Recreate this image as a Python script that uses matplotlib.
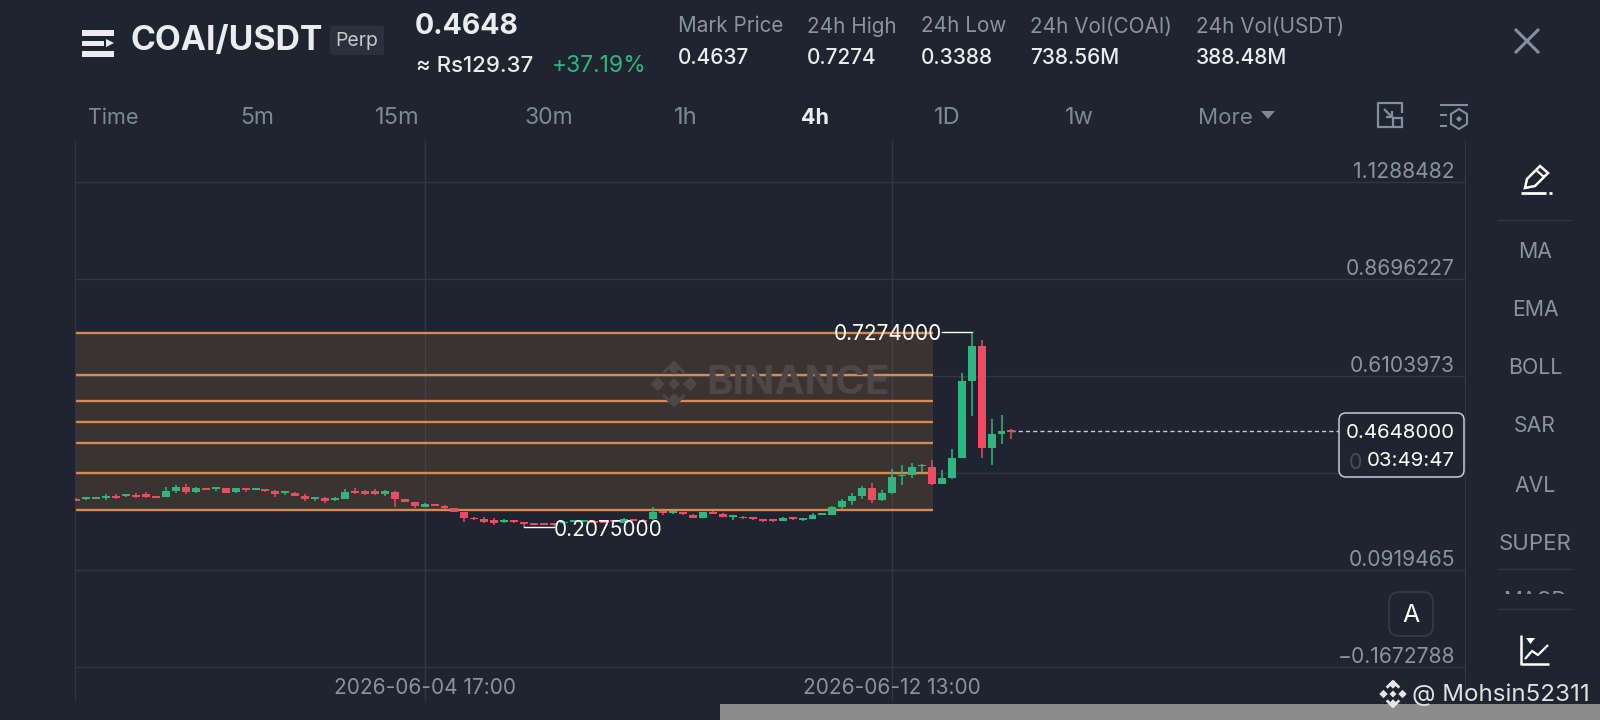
import matplotlib
matplotlib.use("Agg")
import matplotlib.pyplot as plt
from matplotlib.patches import FancyBboxPatch, Polygon, Rectangle

plt.rcParams['font.family'] = ['Inter', 'DejaVu Sans']

# candle data (one candle = 4h)
opens = [.2826, .2808, .2817, .2835, .2906, .2888, .2933, .2942, .2897, .2880,
         .3040, .3147, .3004, .3111, .3076, .3102, .2995, .3102, .3067, .3076,
         .3040, .2969, .2986, .2906, .2808, .2835, .2791, .2826, .3040, .3022,
         .3022, .2951, .2995, .2817, .2728, .2612, .2684, .2639, .2577, .2470,
         .2318, .2282, .2256, .2193, .2256, .2193, .2166, .2166, .2166, .2166,
         .2202, .2202, .2238, .2238, .2256, .2184, .2282, .2264, .2273, .2487,
         .2451, .2460, .2398, .2318, .2478, .2425, .2336, .2345, .2327, .2282,
         .2282, .2229, .2327, .2264, .2282, .2398, .2398, .2592, .2753, .2895,
         .3109, .2788, .2984, .3430, .3465, .3697, .3679, .3216, .3376, .3911,
         .5978, .6905, .4178, .4552, .4648]
highs = [.2835, .2871, .2871, .2951, .2951, .2951, .2969, .3004, .2906, .3129,
         .3200, .3209, .3147, .3120, .3147, .3111, .3111, .3111, .3120, .3085,
         .3058, .3031, .2995, .2951, .2871, .2871, .2862, .3076, .3102, .3058,
         .3076, .3058, .3040, .2826, .2737, .2719, .2692, .2648, .2586, .2479,
         .2327, .2327, .2309, .2273, .2264, .2202, .2175, .2175, .2175, .2220,
         .2264, .2264, .2247, .2247, .2264, .2300, .2291, .2273, .2594, .2496,
         .2496, .2469, .2407, .2469, .2487, .2434, .2389, .2354, .2336, .2291,
         .2291, .2327, .2336, .2318, .2434, .2443, .2630, .2806, .2967, .3163,
         .3234, .3056, .3626, .3724, .3786, .3751, .3858, .3590, .4160, .6174,
         .7274, .7065, .4945, .5069, .4677]
lows = [.2764, .2800, .2808, .2791, .2826, .2880, .2844, .2844, .2835, .2880,
        .2986, .2951, .2969, .3049, .3022, .2977, .2986, .3013, .3058, .3013,
        .2880, .2933, .2888, .2764, .2755, .2719, .2764, .2817, .2951, .2933,
        .2933, .2897, .2594, .2737, .2577, .2594, .2630, .2541, .2461, .2202,
        .2264, .2184, .2113, .2184, .2184, .2075, .2113, .2113, .2104, .2157,
        .2193, .2193, .2175, .2175, .2193, .2175, .2220, .2202, .2256, .2380,
        .2416, .2398, .2300, .2309, .2407, .2327, .2256, .2291, .2264, .2211,
        .2211, .2220, .2264, .2220, .2273, .2389, .2380, .2539, .2664, .2806,
        .2699, .2753, .2949, .3198, .3376, .3537, .3198, .3216, .3359, .3911,
        .5034, .3911, .3715, .4285, .4428]
closes = [.2773, .2862, .2862, .2906, .2844, .2942, .2871, .2871, .2844, .3040,
          .3129, .2995, .3111, .3058, .3129, .2986, .3102, .3049, .3111, .3022,
          .2951, .3022, .2897, .2808, .2862, .2773, .2844, .3013, .2969, .2951,
          .2951, .3022, .2817, .2746, .2630, .2692, .2639, .2577, .2470, .2309,
          .2273, .2202, .2184, .2264, .2193, .2149, .2122, .2122, .2113, .2211,
          .2256, .2256, .2184, .2184, .2202, .2291, .2229, .2211, .2469, .2434,
          .2487, .2407, .2309, .2460, .2416, .2336, .2380, .2300, .2273, .2220,
          .2220, .2318, .2273, .2309, .2398, .2434, .2612, .2770, .2895, .3109,
          .2788, .2984, .3412, .3457, .3661, .3733, .3216, .3376, .3911, .5978,
          .6905, .4178, .4552, .4642, .4612]

fib_levels = [.7245, .6121, .5435, .4882, .4321, .3519, .2521]
price_ticks = [1.1288482, 0.8696227, 0.6103973, 0.0919465, -0.1672788]
grid_prices = [1.1288482, 0.8696227, 0.6103973, 0.3511719, 0.0919465, -0.1672788]
date_pos = [35, 82]
date_labels = ["2026-06-04 17:00", "2026-06-12 13:00"]
last_price = 0.4642
high_idx, high_price = 90, 0.7274
low_idx, low_price = 45, 0.2075

tabs = ["Time", "5m", "15m", "30m", "1h", "4h", "1D", "1w", "More"]
tab_x = [88, 240, 375, 524, 674, 801, 934, 1065, 1198]
tab_size = [15.5, 16.5, 17, 16.5, 17, 15.5, 17, 17, 16]
stats = [("Mark Price", "0.4637", 678), ("24h High", "0.7274", 807), ("24h Low", "0.3388", 921),
         ("24h Vol(COAI)", "738.56M", 1030), ("24h Vol(USDT)", "388.48M", 1196)]
side_items = [("MA", 251), ("EMA", 309), ("BOLL", 367), ("SAR", 425), ("AVL", 484), ("SUPER", 542)]

BG = "#1e2530"
GRID = "#2f3742"
GREEN = "#2fb680"
RED = "#ee4a60"
ORANGE = "#d98a52"
GREY = "#848e9c"
LIGHT = "#eaecef"

fig = plt.figure(figsize=(16, 7.2), dpi=100, facecolor=BG)

# chart area
ax = fig.add_axes([74.5 / 1600, 1 - 701 / 720, 1390.5 / 1600, 561 / 720], facecolor=BG)
ax.set_xlim(-0.2, 139.6)
ax.set_ylim(-0.2581, 1.2410)
ax.set_yticks(grid_prices)
ax.set_yticklabels([])
ax.set_xticks(date_pos)
ax.set_xticklabels(date_labels)
ax.tick_params(length=0, colors="#8b939f", labelsize=15, pad=-16.7)
ax.grid(True, color=GRID, lw=1)
ax.set_axisbelow(True)
for s in ["top", "bottom"]:
    ax.spines[s].set_visible(False)
for s in ["left", "right"]:
    ax.spines[s].set_color(GRID)

# fib box
ax.fill_between([-0.2, 86.1], fib_levels[-1], fib_levels[0], color="#b8753f", alpha=0.18, lw=0, zorder=1)
ax.hlines(fib_levels, -0.2, 86.1, color=ORANGE, lw=1.7, zorder=2)

# candles
for i in range(len(opens)):
    col = GREEN if closes[i] >= opens[i] else RED
    ax.vlines(i, lows[i], highs[i], color=col, lw=1.1, zorder=3)
    ax.bar(i, abs(closes[i] - opens[i]), bottom=min(opens[i], closes[i]), width=0.8, color=col, lw=0, zorder=3)

ax.hlines(last_price, 94, 127, color="#c9ccd1", lw=1, linestyles=(0, (3, 2.2)), zorder=2)

for p in price_ticks:
    ax.annotate(f"{p:.7f}".replace("-", "\u2212"), xy=(1, p), xycoords=ax.get_yaxis_transform(), xytext=(-7.2, 0),
                textcoords="offset points", ha="right", va="bottom", fontsize=15.2, color="#8b939f")

# high / low markers
ax.plot([high_idx, high_idx - 3], [high_price, high_price], color="white", lw=1, zorder=4)
ax.annotate(f"{high_price:.7f}", xy=(high_idx - 3, high_price), xytext=(0, -1.5), textcoords="offset points",
            ha="right", va="center", fontsize=15, color="white", zorder=5)
ax.plot([low_idx, low_idx + 3], [low_price, low_price], color="white", lw=1, zorder=4)
ax.annotate(f"{low_price:.7f}", xy=(low_idx + 3, low_price), xytext=(0, -2), textcoords="offset points",
            ha="left", va="center", fontsize=15, color="white", zorder=5)

# everything that is app chrome goes on a pixel overlay
ov = fig.add_axes([0, 0, 1, 1], facecolor="none", zorder=5)
ov.set_xlim(0, 1600)
ov.set_ylim(720, 0)
ov.axis("off")


def t(x, y, s, size=15, color=GREY, weight="normal", ha="left"):
    return ov.text(x, y + 2, s, fontsize=size, color=color, fontweight=weight, ha=ha, va="center")


def ln(xs, ys, color=GREY, lw=1.5):
    ov.plot(xs, ys, color=color, lw=lw, solid_capstyle="butt")


def diamond(cx, cy, r, color):
    ov.add_patch(Polygon([(cx - r, cy), (cx, cy - r), (cx + r, cy), (cx, cy + r)], color=color, lw=0))


def binance_logo(cx, cy, r, color):
    d = r * 0.68
    for dx, dy in [(-d, 0), (d, 0), (0, -d), (0, d)]:
        diamond(cx + dx, cy + dy, r * 0.3, color)
    diamond(cx, cy, r * 0.25, color)
    ln([cx - r * 0.45, cx, cx + r * 0.45], [cy - r * 0.45, cy - r * 0.9, cy - r * 0.45], color, 2)
    ln([cx - r * 0.45, cx, cx + r * 0.45], [cy + r * 0.45, cy + r * 0.9, cy + r * 0.45], color, 2)


# header
ov.add_patch(Rectangle((82, 30), 32, 5.5, color=LIGHT, lw=0))
ov.add_patch(Rectangle((82, 40.5), 22, 5.5, color=LIGHT, lw=0))
ov.add_patch(Polygon([(106, 39), (114, 43), (106, 47)], color=LIGHT, lw=0))
ov.add_patch(Rectangle((82, 51), 32, 5.5, color=LIGHT, lw=0))
t(130, 39.5, "COAI/USDT", 24.3, LIGHT, "bold")
ov.add_patch(FancyBboxPatch((330, 25.5), 54, 29.5, boxstyle="round,pad=0,rounding_size=3", fc="#2a313c", ec="none"))
t(357, 39.5, "Perp", 14, "#c4c9d0", ha="center")
t(415, 25, "0.4648", 20.5, LIGHT, "bold")
t(416, 64, "\u2248 Rs129.37", 16, LIGHT, "medium")
t(552, 64, "+37.19%", 16.5, GREEN)
for name, val, x in stats:
    t(x, 24.5, name, 14.9, "#8b939f")
    t(x, 56, val, 15, LIGHT, "medium")
ln([1515, 1539], [29, 53], "#848e9c", 2.2)
ln([1515, 1539], [53, 29], "#848e9c", 2.2)

# interval tabs
for name, x, sz in zip(tabs, tab_x, tab_size):
    if name == "4h":
        t(x, 116.5, name, sz, LIGHT, "bold")
    else:
        t(x, 116.5, name, sz, "#7f8895")
ov.add_patch(Polygon([(1261, 111), (1275, 111), (1268, 119)], color="#7f8895", lw=0))

# the two little icons above the axis
ln([1391, 1378, 1378, 1392], [103, 103, 127, 127], GREY, 1.6)
ln([1391, 1402, 1402], [103, 103, 113], GREY, 1.6)
ov.add_patch(Rectangle((1393, 118), 9, 9, fc="none", ec=GREY, lw=1.6))
ln([1384, 1392], [109, 117], GREY, 1.6)
ln([1386, 1392, 1392], [117, 117, 111], GREY, 1.6)
ln([1440, 1468], [104.5, 104.5], GREY, 1.5)
ln([1440, 1447], [115, 115], GREY, 1.5)
ln([1440, 1447], [126, 126], GREY, 1.5)
ov.add_patch(Polygon([(1459, 109), (1467, 114), (1467, 124), (1459, 129), (1451, 124), (1451, 114)],
                     fc="none", ec=GREY, lw=1.5))
diamond(1459, 119, 3, GREY)

# side panel
ov.add_patch(Polygon([(1525, 188), (1527, 179), (1540, 166), (1548, 173), (1535, 186)], fc="none", ec="white", lw=1.8))
ln([1536, 1544], [170, 177], "white", 1.6)
ln([1521, 1546], [193, 193], "white", 2)
ln([1549, 1552], [193, 193], "white", 2)
for y in [220, 569, 609]:
    ln([1497, 1572], [y, y], GRID, 1)
for name, y in side_items:
    t(1535, y - 0.5, name, 16 if name == "SUPER" else 15.3, "#8b939f", ha="center")
# only the top edge of the next menu item peeks out of the scroll area
macd = t(1535, 599, "MACD", 15, "#8b939f", ha="center")
macd.set_clip_on(True)
macd.set_clip_path(Rectangle((1490, 590), 90, 4, transform=ov.transData))
ln([1521, 1521, 1549], [635, 664, 664], "white", 1.8)
ln([1525, 1532, 1538, 1548], [659, 651, 655, 645], "white", 1.6)
ov.add_patch(Polygon([(1526, 638), (1535, 638), (1530.5, 644)], color="white", lw=0))

# price box + auto button
ov.add_patch(FancyBboxPatch((1339, 413), 125, 64, boxstyle="round,pad=0,rounding_size=7", fc=BG, ec="#c7cbd1", lw=1.1))
t(1349, 461, "0", 15.3, "#454c57")
t(1455, 430.5, "0.4648000", 14.7, "white", ha="right")
t(1455, 458.5, "03:49:47", 14.7, "white", ha="right")
ov.add_patch(FancyBboxPatch((1389, 592), 44, 44, boxstyle="round,pad=0,rounding_size=10", fc=BG, ec="#343c47", lw=1.2))
t(1411, 613, "A", 18, "white", ha="center")

# watermarks
binance_logo(674, 384, 24, "#4d4846")
t(706, 382, "BINANCE", 29, "#4d4846", "bold")
ov.add_patch(Rectangle((720, 704), 880, 16, color="#8c8c8c", lw=0))
binance_logo(1393, 694, 14, "#e6e6e6")
t(1412, 692.5, "@ Mohsin52311", 17.4, "#e0e0e0")

fig.savefig("out.png", dpi=100, facecolor=BG)
